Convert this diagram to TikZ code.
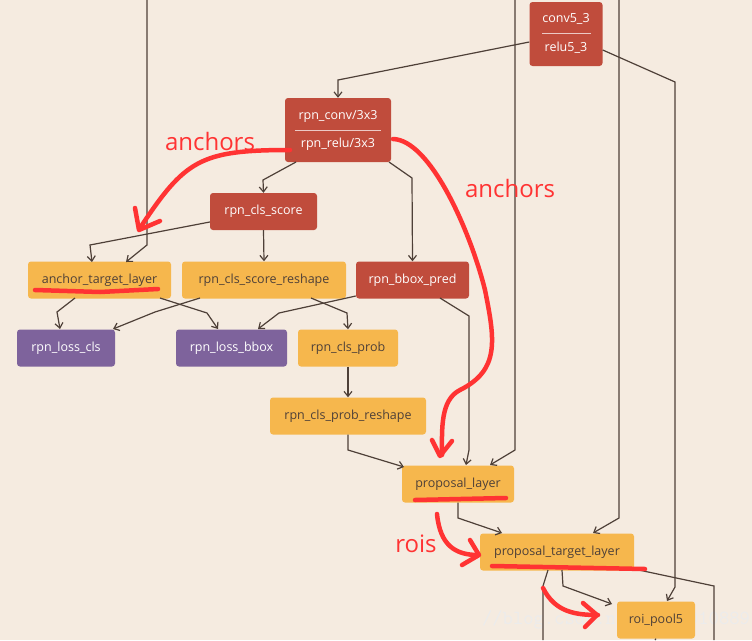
\documentclass[tikz,border=0pt]{standalone}
\usepackage{fontspec}
\setmainfont{Open Sans}
\usetikzlibrary{arrows.meta}
\definecolor{bg}{HTML}{F5EBE0}
\definecolor{rd}{HTML}{C04C3C}
\definecolor{og}{HTML}{F6B74D}
\definecolor{pu}{HTML}{7E639C}
\definecolor{ln}{HTML}{4E4038}
\definecolor{ann}{HTML}{FF3333}
\tikzset{x=1pt,y=-1pt,
 box/.style={rounded corners=3pt,minimum height=37pt,inner xsep=9pt,font=\fontsize{12.5}{14}\selectfont},
 rbox/.style={box,fill=rd,text=white},
 obox/.style={box,fill=og,text=ln},
 pbox/.style={box,fill=pu,text=white},
 e/.style={draw=ln,line width=1.2pt,-{Straight Barb[length=5pt,width=8pt]}},
 el/.style={draw=ln,line width=1.2pt},
 an/.style={draw=ann,line width=4.5pt,line cap=round,line join=round},
 anntext/.style={text=ann,font=\fontsize{24}{26}\selectfont}}
\begin{document}
\begin{tikzpicture}
\fill[bg] (0,0) rectangle (752,640);
\useasboundingbox (0,0) rectangle (752,640);
% watermark
\node[text=white!85!gray,font=\fontfamily{lmtt}\fontsize{20}{22}\selectfont] (wm) at (616,620) {//blog.csdn.net/u014010889};
% nodes
\node[rbox,minimum width=73pt,minimum height=64pt] (c5) at (566,34) {};
\node[text=white,font=\fontsize{12.5}{14}\selectfont] (c5a) at (566,19) {conv5\_3};
\node[text=white,font=\fontsize{12.5}{14}\selectfont] (c5b) at (566,48) {relu5\_3};
\draw[white!70!rd] (542,33.5) -- (591,33.5);
\node[rbox,minimum width=106pt,minimum height=64pt] (rc) at (338,130) {};
\node[text=white,font=\fontsize{12.5}{14}\selectfont] (rca) at (338,116) {rpn\_conv/3x3};
\node[text=white,font=\fontsize{12.5}{14}\selectfont] (rcb) at (338,144) {rpn\_relu/3x3};
\draw[white!70!rd] (295,130) -- (381,130);
\node[rbox,minimum width=107pt] (cs) at (263.5,211.5) {rpn\_cls\_score};
\node[obox,minimum width=143pt] (atl) at (99.5,280) {anchor\_target\_layer};
\node[obox,minimum width=164pt] (csr) at (264,280) {rpn\_cls\_score\_reshape};
\node[rbox,minimum width=113pt] (bp) at (412.5,280) {rpn\_bbox\_pred};
\node[pbox,minimum width=98pt] (lc) at (66,348) {rpn\_loss\_cls};
\node[pbox,minimum width=111pt] (lb) at (231.5,348) {rpn\_loss\_bbox};
\node[obox,minimum width=100pt] (cp) at (348,348) {rpn\_cls\_prob};
\node[obox,minimum width=156pt] (cpr) at (348,416) {rpn\_cls\_prob\_reshape};
\node[obox,minimum width=112pt] (pl) at (458,484) {proposal\_layer};
\node[obox,minimum width=154pt] (ptl) at (557,552) {proposal\_target\_layer};
\node[obox,minimum width=78pt] (rp) at (656,620) {roi\_pool5};
% free ends
\coordinate (t1) at (147,0);
\coordinate (t2) at (515,0);
\coordinate (t3) at (619,0);
\coordinate (b1) at (543,640);
\coordinate (b2) at (714,640);
% edges
\draw[e] (c5.west |- 0,42) -- (338,80) -- (rc.north);
\draw[e] (c5.east |- 0,50) -- (675,82) -- (675,587) -- (667,601);
\draw[e] (t1) -- (147,245) -- (126,262);
\draw[e] (t2) -- (515,450) -- (490,465);
\draw[e] (t3) -- (619,518) -- (593,533);
\draw[e] (cs.west |- 0,222) -- (90,245) -- (92,262);
\draw[e] (296,162) -- (263,180) -- (cs.north);
\draw[e] (389,162) -- (412,178) -- (bp.north);
\draw[e] (cs.south) -- (csr.north);
\draw[e] (75,298) -- (57,312) -- (60,329);
\draw[e] (160,298) -- (207,313) -- (218,329);
\draw[e] (200,298) -- (155,312) -- (113,329);
\draw[e] (311,298) -- (347,313) -- (cp.north);
\draw[e] (bp.west |- 0,296) -- (279,313) -- (258,329);
\draw[e] (440,298) -- (469,316) -- (469,450) -- (466,465);
\draw[e] (cp.south) -- (cpr.north);
\draw[e] (cpr.south) -- (348,450) -- (404,467);
\draw[e] (pl.south) -- (458,518) -- (502,533);
\draw[e] (562,570) -- (563,586) -- (612,604);
\draw[el] (548,570) -- (543,586) -- (b1);
\draw[el] (634,569) -- (714,586) -- (b2);
\draw[el] (rp.south) -- (655,640);
% annotations
\node[anntext] (a1) at (210,141) {anchors};
\node[anntext] (a2) at (510,188) {anchors};
\node[anntext] (a3) at (416,544) {rois};
\draw[an] (290,150) .. controls (200,150) and (185,160) .. (140,228);
\draw[an] (135,208) -- (139,230) -- (160,221);
\draw[an] (393,139) .. controls (430,140) and (470,230) .. (485,290) .. controls (495,340) and (500,370) .. (460,390) .. controls (440,400) and (442,430) .. (442,455);
\draw[an] (432,440) -- (440,456) -- (452,441);
\draw[an] (35,290) -- (100,292) -- (158,289);
\draw[an] (415,500) -- (506,498);
\draw[an] (437,514) .. controls (440,545) and (455,555) .. (478,555);
\draw[an] (470,540) -- (479,555) -- (462,565);
\draw[an] (492,566) -- (645,569);
\draw[an] (543,588) .. controls (555,612) and (575,615) .. (598,615);
\draw[an] (583,603) -- (597,615) -- (585,627);
\end{tikzpicture}
\end{document}
